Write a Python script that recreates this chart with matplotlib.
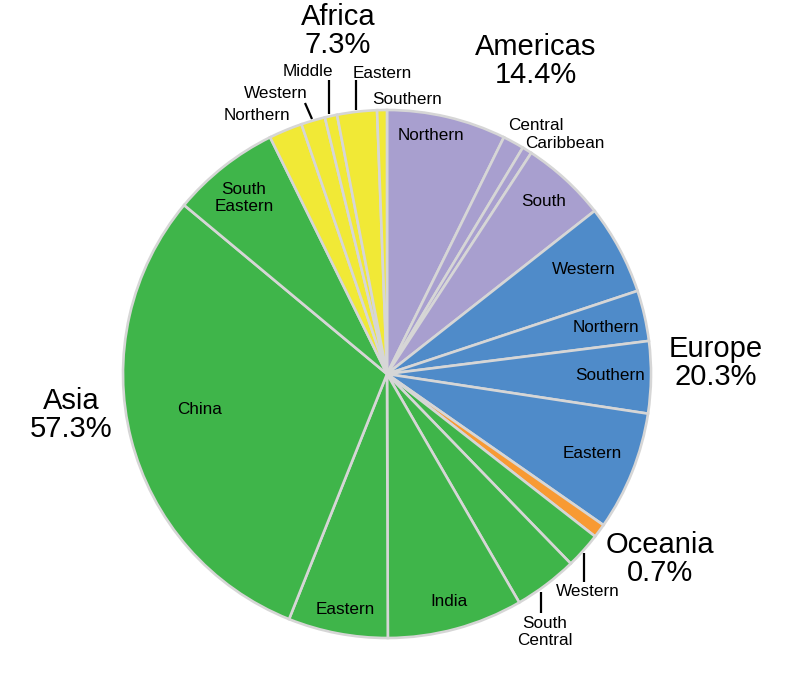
import matplotlib
matplotlib.use('Agg')
import matplotlib.pyplot as plt

plt.rcParams['font.family'] = ['Liberation Sans', 'DejaVu Sans']

# data sets, clockwise from 12 o'clock
americas = [7.3, 1.3, 0.6, 5.2]
europe = [5.5, 3.1, 4.4, 7.3]
oceania = [0.85]
asia = [2.2, 3.9, 8.3, 6.1, 30.0, 6.65]
africa = [2.05, 1.47, 0.75, 2.43, 0.6]

groups = [americas, europe, oceania, asia, africa]
group_colors = ['#a89fcf', '#4f8bc9', '#f89a33', '#3fb54a', '#f1e936']

W, H = 786, 673


def py(y):
    # picture y (down) to axes y (up)
    return H - y


fig = plt.figure(figsize=(W / 100, H / 100), dpi=100)
ax = fig.add_axes([0, 0, 1, 1])

values = []
colors = []
for g, c in zip(groups, group_colors):
    values += g
    colors += [c] * len(g)

ax.pie(values, colors=colors, startangle=90, counterclock=False,
       center=(387, py(374)), radius=264, frame=True,
       wedgeprops={'edgecolor': '#d6d6d6', 'linewidth': 1.9})
ax.set_xlim(0, W)
ax.set_ylim(0, H)
ax.axis('off')

# region names
big = [('Africa\n7.3%', 338, 31), ('Americas\n14.4%', 536, 61),
       ('Europe\n20.3%', 716, 363), ('Oceania\n0.7%', 660, 559),
       ('Asia\n57.3%', 71, 415)]
for txt, x, y in big:
    ax.text(x, py(y), txt, fontsize=21, ha='center', va='center', linespacing=0.98, color='black')

# sub region names
small = [('Northern', 431, 135), ('Central', 536, 126), ('Caribbean', 565, 144), ('South', 544, 201),
         ('Western', 584, 270), ('Northern', 606, 327), ('Southern', 610, 376), ('Eastern', 592, 453),
         ('Western', 588, 592), ('South\nCentral', 545, 632), ('India', 449, 601), ('Eastern', 345, 609),
         ('China', 200, 410), ('South\nEastern', 244, 198), ('Northern', 257, 116), ('Western', 276, 93),
         ('Middle', 308, 72), ('Eastern', 382, 73), ('Southern', 407, 99)]
for txt, x, y in small:
    ax.text(x, py(y), txt, fontsize=12.3, ha='center', va='center', linespacing=1.12, color='black')

# leader lines
leaders = [((305, 103), (312, 119)), ((329, 80), (329, 114)), ((356, 80), (356, 110)),
           ((541, 592), (541, 613)), ((584, 553), (584, 582))]
for a, b in leaders:
    ax.plot([a[0], b[0]], [py(a[1]), py(b[1])], color='black', lw=1.6, solid_capstyle='butt')

fig.savefig('out.png', dpi=100)
